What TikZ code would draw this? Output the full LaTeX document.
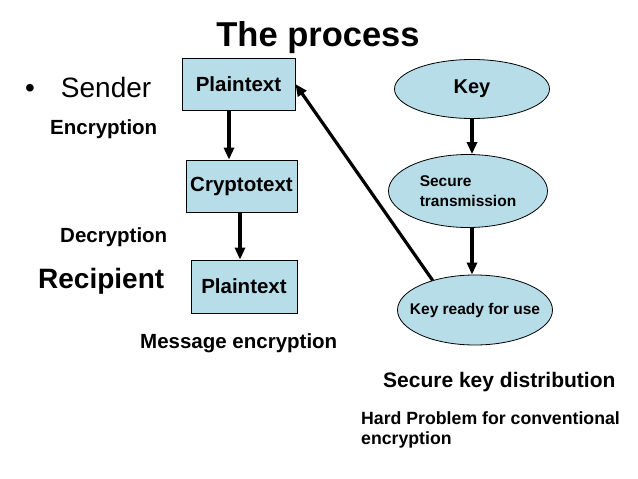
\documentclass[tikz,border=0pt]{standalone}
\usepackage{fontspec}
\setmainfont{Liberation Sans}
\usetikzlibrary{shapes.geometric,arrows.meta}
\definecolor{boxblue}{HTML}{B7DDE8}

\tikzset{
  txtbox/.style={draw, fill=boxblue, line width=0.8pt, inner sep=0pt,
    minimum height=52pt, font=\fontsize{20.5}{24}\selectfont\bfseries},
  keyell/.style={ellipse, draw, fill=boxblue, line width=0.8pt, inner sep=0pt},
  flow/.style={line width=3.2pt, -{Triangle[length=12pt,width=10pt]}},
  lbl/.style={anchor=west, inner sep=0pt, font=\fontsize{20.5}{24}\selectfont\bfseries}
}

\begin{document}
\begin{tikzpicture}[x=1pt,y=-1pt]
  \useasboundingbox (0,0) rectangle (638,479);

  % title and side texts
  \node[font=\fontsize{34.5}{40}\selectfont\bfseries] (title) at (318,38) {The process};
  \node[anchor=west, inner sep=0pt, font=\fontsize{28}{32}\selectfont] (sender) at (25,87) {\textbullet\hspace{26pt}Sender};
  \node[lbl] (enc) at (50,129) {Encryption};
  \node[lbl] (dec) at (60,237) {Decryption};
  \node[lbl, font=\fontsize{28}{32}\selectfont\bfseries] (recip) at (38,281) {Recipient};
  \node[lbl] (msgenc) at (140,343) {Message encryption};

  % message side
  \node[txtbox, minimum width=113pt] (plain) at (238.5,84) {Plaintext};
  \node[txtbox, minimum width=111pt] (crypto) at (241.5,186) {Cryptotext};
  \node[txtbox, minimum width=106pt, minimum height=53pt] (plainb) at (244,286.5) {Plaintext};

  \draw[flow] ([xshift=-9.5pt]plain.south) -- ([xshift=-12.5pt]crypto.north);
  \draw[flow] ([xshift=-1.5pt]crypto.south) -- ([xshift=-4pt]plainb.north);

  % key side
  \node[keyell, minimum width=155pt, minimum height=59pt,
    font=\fontsize{20}{24}\selectfont\bfseries] (key) at (472,89) {Key};
  \node[keyell, minimum width=159pt, minimum height=73pt, align=left,
    font=\fontsize{15.5}{20}\selectfont\bfseries] (sec) at (468,191) {Secure\\transmission};
  \node[keyell, minimum width=155pt, minimum height=70pt, inner xsep=-12pt,
    font=\fontsize{15.5}{20}\selectfont\bfseries] (ready) at (475,310) {Key ready for use};

  \draw[flow] (key.south) -- (key.south |- sec.north);
  \draw[flow] ([xshift=4pt]sec.south) -- ([xshift=4pt]sec.south |- ready.north);
  \draw[flow] (ready.145) -- (plain.east);

  \node[lbl, font=\fontsize{21}{24}\selectfont\bfseries] (keydist) at (383,382) {Secure key distribution};
  \node[anchor=north west, inner sep=0pt, align=left,
    font=\fontsize{17.7}{20}\selectfont\bfseries] (hard) at (361,411) {Hard Problem for conventional\\encryption};
\end{tikzpicture}
\end{document}
